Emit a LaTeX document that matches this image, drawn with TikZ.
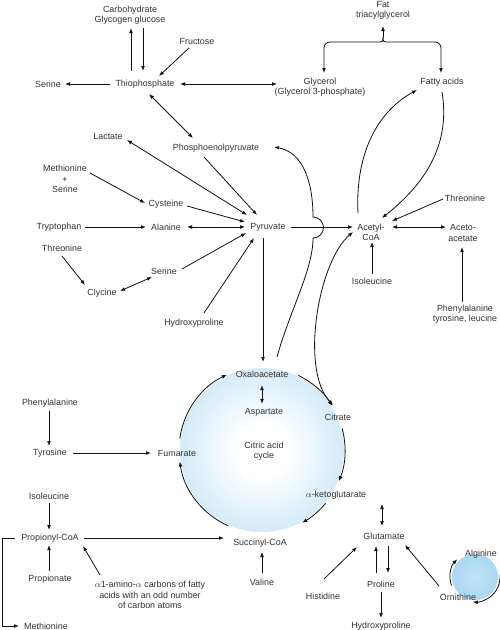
\documentclass[tikz,border=0pt]{standalone}
\usepackage{fontspec}
\setmainfont{Liberation Sans}
\usetikzlibrary{arrows.meta,calc}
\definecolor{txt}{HTML}{333333}
\definecolor{ln}{HTML}{111111}
\definecolor{tcab}{RGB}{150,206,240}
\pgfdeclareradialshading{tcashade}{\pgfpoint{0bp}{0bp}}{color(0bp)=(white); color(8bp)=(white); color(50bp)=(tcab); color(100bp)=(tcab)}
\pgfdeclareradialshading{ornshade}{\pgfpoint{0bp}{0bp}}{color(0bp)=(white!40!tcab); color(50bp)=(tcab); color(100bp)=(tcab)}
\newcommand\labfont{\fontsize{8.9}{10.2}\selectfont}
\begin{document}
\begin{tikzpicture}[x=1pt,y=-1pt,
  lbl/.style={text=txt, inner sep=1pt, align=center, font=\labfont},
  arr/.style={-{Latex[length=5pt,width=3.8pt]}, line width=0.8pt, draw=ln},
  darr/.style={{Latex[length=5pt,width=3.8pt]}-{Latex[length=5pt,width=3.8pt]}, line width=0.8pt, draw=ln},
  plain/.style={line width=0.8pt, draw=ln}]
\useasboundingbox (0,0) rectangle (500,630);
\fill[white] (0,0) rectangle (500,630);
\coordinate (tca) at (262,450);
\coordinate (orc) at (475,577);
\shade[shading=tcashade] (tca) circle[radius=82];
\shade[shading=ornshade] (orc) circle[radius=23];

\node[lbl] (carb) at (130,15) {Carbohydrate\\Glycogen glucose};
\node[lbl] (fruc) at (197,41) {Fructose};
\node[lbl] (thio) at (145,84) {Thiophosphate};
\node[lbl] (serA) at (48,84) {Serine};
\node[lbl] (glyc) at (320,87) {Glycerol\\(Glycerol 3-phosphate)};
\node[lbl] (fat) at (383,10) {Fat\\triacylglycerol};
\node[lbl] (fatty) at (442,82) {Fatty acids};
\node[lbl] (lact) at (108,136) {Lactate};
\node[lbl] (pep) at (216,148) {Phosphoenolpyruvate};
\node[lbl] (meth) at (65,179) {Methionine\\+\\Serine};
\node[lbl] (cys) at (166,204) {Cysteine};
\node[lbl] (tryp) at (59,227) {Tryptophan};
\node[lbl] (ala) at (166,227) {Alanine};
\node[lbl] (pyr) at (268,227) {Pyruvate};
\node[lbl] (thrA) at (62,248) {Threonine};
\node[lbl] (cly) at (102,293) {Clycine};
\node[lbl] (serB) at (164,271) {Serine};
\node[lbl] (hyp) at (194,323) {Hydroxyproline};
\node[lbl] (acoa) at (371,232) {Acetyl-\\CoA};
\node[lbl] (thrB) at (465,198) {Threonine};
\node[lbl] (aceto) at (463,233) {Aceto-\\acetate};
\node[lbl] (ileA) at (372,281) {Isoleucine};
\node[lbl] (phe) at (465,314) {Phenylalanine\\tyrosine, leucine};
\node[lbl] (oxa) at (262,374) {Oxaloacetate};
\node[lbl] (asp) at (264,412) {Aspartate};
\node[lbl] (cac) at (264,451) {Citric acid\\cycle};
\node[lbl] (cit) at (338,417) {Citrate};
\node[lbl] (akg) at (336,495) {$\alpha$-ketoglutarate};
\node[lbl] (succ) at (260,543) {Succinyl-CoA};
\node[lbl] (fum) at (177,453) {Fumarate};
\node[lbl] (pheB) at (50,403) {Phenylalanine};
\node[lbl] (tyr) at (50,453) {Tyrosine};
\node[lbl] (ileB) at (49,496) {Isoleucine};
\node[lbl] (prop) at (50,538) {Propionyl-CoA};
\node[lbl] (propn) at (50,579) {Propionate};
\node[lbl] (methB) at (46,626) {Methionine};
\node[lbl] (odd) at (150,595) {$\alpha$1-amino-$\alpha$ carbons of fatty\\acids with an odd number\\of carbon atoms};
\node[lbl] (val) at (262,582) {Valine};
\node[lbl] (glu) at (384,536) {Glutamate};
\node[lbl] (his) at (323,596) {Histidine};
\node[lbl] (pro) at (381,584) {Proline};
\node[lbl] (hypB) at (381,626) {Hydroxyproline};
\node[lbl] (orn) at (458,597) {Ornithine};
\node[lbl] (alg) at (481,554) {Alginine};

% top area
\draw[arr] ($(thio)+(-14,-13)$) -- ($(carb)+(1,13)$);
\draw[arr] ($(carb)+(13,13)$) -- ($(thio)+(-2,-13)$);
\draw[arr] ($(fruc)+(-8,7)$) -- ($(thio)+(14,-8)$);
\draw[arr] ($(thio)+(-35,0)$) -- ($(serA)+(17,0)$);
\draw[darr] ($(thio)+(35,0)$) -- ($(glyc)+(-43,-3)$);
\draw[darr] ($(thio)+(4,10)$) -- ($(pep)+(-23,-10)$);
% fat brace
\coordinate (bc) at (383,42);
\coordinate (bcl) at ($(bc)+(-7,0)$);
\coordinate (bcr) at ($(bc)+(7,0)$);
\coordinate (gltip) at ($(glyc)+(4,-14)$);
\coordinate (fatip) at ($(fatty)+(-1,-9)$);
\draw[arr] ($(bc)+(0,-5)$) -- ($(fat)+(0,16)$);
\draw[plain] ($(bc)+(0,-5)$) .. controls (bc) .. (bcl);
\draw[plain] ($(bc)+(0,-5)$) .. controls (bc) .. (bcr);
\draw[arr, rounded corners=6pt] (bcl) -- (gltip |- bc) -- (gltip);
\draw[arr, rounded corners=6pt] (bcr) -- (fatip |- bc) -- (fatip);

% into pyruvate
\draw[darr] ($(lact)+(19,4)$) -- ($(pyr)+(-21,-12)$);
\draw[arr] ($(pep)+(-12,9)$) -- ($(pyr)+(-11,-12)$);
\draw[arr] ($(meth)+(25,-6)$) -- ($(cys)+(-21,-1)$);
\draw[arr] ($(cys)+(21,2)$) -- ($(pyr)+(-23,-5)$);
\draw[arr] ($(tryp)+(26,0)$) -- ($(ala)+(-20,0)$);
\draw[darr] ($(ala)+(21,0)$) -- ($(pyr)+(-23,0)$);
\draw[arr] ($(thrA)+(0,8)$) -- ($(cly)+(-17,-8)$);
\draw[darr] ($(cly)+(18,-2)$) -- ($(serB)+(-12,6)$);
\draw[arr] ($(serB)+(18,-2)$) -- ($(pyr)+(-22,6)$);
\draw[arr] ($(hyp)+(10,-10)$) -- ($(pyr)+(-14,11)$);
\draw[arr] ($(pyr)+(-5,11)$) -- ($(oxa)+(1,-12)$);
\draw[arr] ($(pyr)+(23,0)$) -- ($(acoa)+(-18,-5)$);

% oxaloacetate -> PEP with hop
\draw[arr] ($(oxa)+(15,-17)$) .. controls (290,310) and (313,270) .. (313,238)
  arc[start angle=90, end angle=-90, radius=10.5]
  .. controls (313,180) and (302,152) .. ($(pep)+(58,-1)$);

% acetyl-CoA region
\draw[arr] ($(acoa)+(-13,-19)$) .. controls (355,150) and (380,110) .. ($(fatty)+(-25,8)$);
\draw[arr] ($(fatty)+(0,10)$) .. controls (450,140) and (430,180) .. ($(acoa)+(11,-14)$);
\draw[arr] ($(thrB)+(-22,1)$) -- ($(acoa)+(21,-11)$);
\draw[darr] ($(acoa)+(21,-5)$) -- ($(aceto)+(-17,-6)$);
\draw[arr] ($(ileA)+(0,-7)$) -- ($(acoa)+(1,10)$);
\draw[arr] ($(phe)+(-3,-12)$) -- ($(aceto)+(-1,14)$);
\draw[darr] ($(acoa)+(-18,0)$) .. controls (318,262) and (300,370) .. ($(cit)+(-5,-12)$);

% citric acid cycle
\draw[darr] ($(oxa)+(0,11)$) -- ($(asp)+(-2,-8)$);
\draw[arr] ($(tca)+(188:83)$) arc[start angle=188, end angle=245, radius=83];
\draw[arr] ($(tca)+(296:83)$) arc[start angle=296, end angle=328, radius=83];
\draw[arr] ($(tca)+(345:83)$) arc[start angle=345, end angle=382, radius=83];
\draw[arr] ($(tca)+(40:83)$) arc[start angle=40, end angle=61, radius=83];
\draw[arr] ($(tca)+(114:83)$) arc[start angle=114, end angle=172, radius=83];

% left side
\draw[arr] ($(pheB)+(-1,8)$) -- ($(tyr)+(-1,-7)$);
\draw[arr] ($(tyr)+(23,0)$) -- ($(fum)+(-26,0)$);
\draw[arr] ($(ileB)+(0,7)$) -- ($(prop)+(-1,-8)$);
\draw[arr] ($(propn)+(-1,-8)$) -- ($(prop)+(-1,7)$);
\draw[arr] ($(prop)+(34,0)$) -- ($(succ)+(-36,-5)$);
\draw[arr] ($(odd)+(-50,-20)$) -- ($(prop)+(33,8)$);
\draw[arr] ($(prop)+(-35,0)$) -- (2,538) -- (2,626) -- ($(methB)+(-27,0)$);
\draw[arr] ($(val)+(0,-9)$) -- ($(succ)+(2,9)$);

% glutamate region
\draw[darr] ($(glu)+(-2,-32)$) -- ($(glu)+(-2,-10)$);
\draw[arr] ($(his)+(1,-17)$) -- ($(glu)+(-27,11)$);
\draw[arr] ($(glu)+(4,10)$) -- ($(pro)+(7,-11)$);
\draw[arr] ($(pro)+(-5,-11)$) -- ($(glu)+(-8,10)$);
\draw[arr] ($(pro)+(0,8)$) -- ($(hypB)+(0,-8)$);
\draw[arr] ($(orn)+(-19,-11)$) -- ($(glu)+(21,9)$);
\draw[arr] ($(orc)+(160:25)$) arc[start angle=160, end angle=225, radius=25];
\draw[arr] ($(orc)+(-5:25)$) arc[start angle=-5, end angle=95, radius=25];
\end{tikzpicture}
\end{document}
